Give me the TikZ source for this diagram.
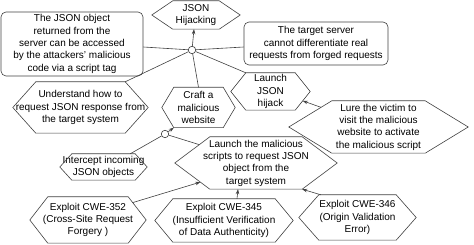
\documentclass[tikz,border=0pt]{standalone}
\usepackage{fontspec}
\setmainfont{Liberation Sans}
\usetikzlibrary{arrows.meta,calc}

\begin{document}
\begin{tikzpicture}[x=1pt, y=-1pt,
    txt/.style={inner sep=0pt, align=center, font=\fontsize{10}{12.3}\selectfont},
    goal/.style={txt},
    note/.style={txt, draw=black!75, line width=0.6pt, rounded corners=5pt},
    orjoint/.style={circle, draw=black!75, fill=white, line width=0.6pt, inner sep=0pt, minimum size=7.5pt},
    link/.style={draw=black!75, line width=0.6pt},
    arrowlink/.style={link, -{Stealth[length=5pt,width=3.5pt]}}]
  \useasboundingbox (0,0) rectangle (474,245);

  % goals (hexagons are drawn round them further down)
  \node[goal, minimum width=88pt, minimum height=28pt] (hijack) at (196,15) {JSON\\Hijacking};
  \node[goal, minimum width=135pt, minimum height=51pt] (understand) at (80.5,107.5)
      {Understand how to\\request JSON response from\\the target system};
  \node[goal, minimum width=73pt, minimum height=40pt] (craft) at (198.5,107.5) {Craft a\\malicious\\website};
  \node[goal, minimum width=79pt, minimum height=37pt] (launchhijack) at (270.5,91.5) {Launch\\JSON\\hijack};
  \node[goal, minimum width=179pt, minimum height=52pt] (lure) at (378.5,127)
      {Lure the victim to\\visit the malicious\\website to activate\\the malicious script};
  \node[goal, minimum width=87pt, minimum height=26pt] (intercept) at (103.5,167) {Intercept incoming\\JSON objects};
  \node[goal, minimum width=162pt, minimum height=52pt] (launchmal) at (256,163)
      {Launch the malicious\\scripts to request JSON\\object from the\\target system};
  \node[goal, minimum width=116pt, minimum height=46pt] (cwe352) at (88,220)
      {Exploit CWE-352\\(Cross-Site Request\\Forgery )};
  \node[goal, minimum width=138pt, minimum height=43pt] (cwe345) at (224,220.5)
      {Exploit CWE-345\\(Insufficient Verification\\of Data Authenticity)};
  \node[goal, minimum width=117pt, minimum height=45pt] (cwe346) at (357.5,217.5)
      {Exploit CWE-346\\(Origin Validation\\Error)};

  % context notes
  \node[note, minimum width=142pt, minimum height=64pt] (jsonobj) at (72,44)
      {The JSON object\\returned from the\\server can be accessed\\by the attackers' malicious\\code via a script tag};
  \node[note, minimum width=144pt, minimum height=43pt] (forged) at (316,43.5)
      {The target server\\cannot differentiate real\\requests from forged requests};

  \foreach \n/\p in {hijack/21,understand/23,craft/12,launchhijack/15,lure/43,
                     intercept/12,launchmal/35,cwe352/18,cwe345/18,cwe346/20}{
    \draw[link] (\n.west) -- ([xshift=\p pt]\n.north west) -- ([xshift=-\p pt]\n.north east)
      -- (\n.east) -- ([xshift=-\p pt]\n.south east) -- ([xshift=\p pt]\n.south west) -- cycle; }

  % upper decomposition
  \node[orjoint] (orjoin) at (192,50) {};
  \draw[arrowlink] (orjoin) -- ([xshift=-2pt]hijack.south);
  \draw[link] (orjoin) -- ([yshift=-3pt]jsonobj.east);
  \draw[link] (orjoin) -- ([yshift=-3.5pt]forged.west);
  \draw[link] (orjoin) -- ([xshift=-23pt]understand.north east);
  \draw[link] (orjoin) -- (craft.north);
  \draw[link] (orjoin) -- ([xshift=15pt]launchhijack.north west);

  % lower decomposition
  \node[orjoint] (orjoin2) at (165,134) {};
  \draw[arrowlink] (orjoin2) -- ([xshift=12pt]craft.south west);
  \draw[link] (orjoin2) -- ([xshift=-17pt]intercept.north east);
  \draw[link] (orjoin2) -- ($(launchmal.west)!0.7!([xshift=35pt]launchmal.north west)$);

  \draw[arrowlink] ($(lure.west)!0.75!([xshift=43pt]lure.north west)$)
      -- ($(launchhijack.east)!0.5!([xshift=-15pt]launchhijack.south east)$);
  \draw[arrowlink] ($([xshift=-18pt]cwe352.north east)!0.25!(cwe352.east)$)
      -- ($(launchmal.west)!0.73!([xshift=35pt]launchmal.south west)$);
  \draw[arrowlink] ([xshift=13pt]cwe345.north) -- ([xshift=-18pt]launchmal.south);
  \draw[arrowlink] ([xshift=22pt]cwe346.north west) -- ([xshift=-35pt]launchmal.south east);
\end{tikzpicture}
\end{document}
